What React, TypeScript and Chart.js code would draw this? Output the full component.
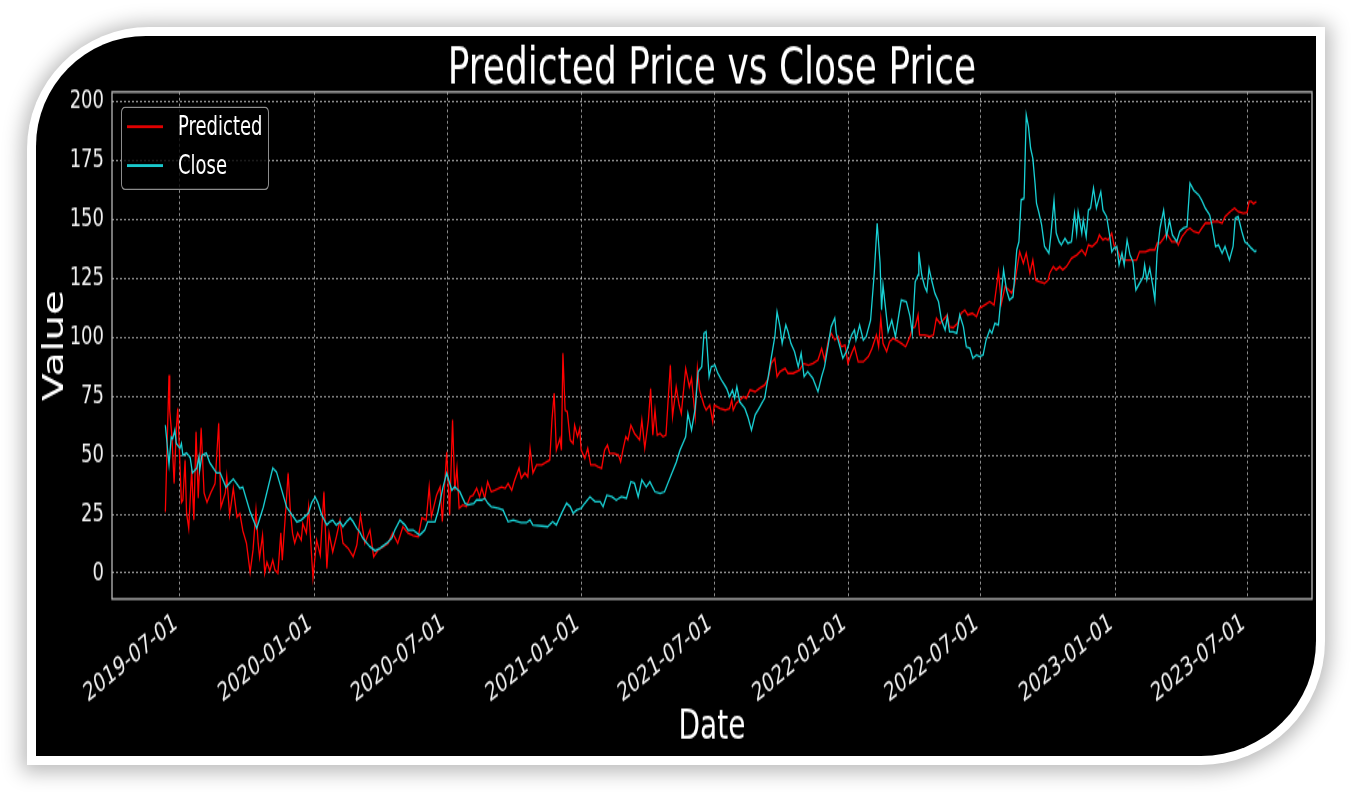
import React, { useEffect, useRef } from "react";
import { Chart, registerables } from "chart.js";

Chart.register(...registerables);

// ---------- data (x = days since START_DATE) ----------
const START_DATE = "2019-07-01";

const xTickLabels = [
  "2019-07-01", "2020-01-01", "2020-07-01", "2021-01-01", "2021-07-01",
  "2022-01-01", "2022-07-01", "2023-01-01", "2023-07-01",
];
const yTickValues = [0, 25, 50, 75, 100, 125, 150, 175, 200];
const xRangeDays = [-93, 1549];
const yRange = [-11, 204.2];

const predictedDays = [
  -20, -15, -14, -11, -8, -5, -3, 2, 4, 7, 9, 12, 16, 19, 22, 25, 29, 33, 37, 42,
  48, 53, 56, 62, 64, 68, 73, 78, 82, 86, 91, 96, 100, 104, 107, 109, 113, 116, 119, 123,
  127, 130, 134, 138, 140, 145, 148, 151, 154, 157, 161, 166, 168, 173, 176, 178, 182, 187, 192, 197,
  201, 204, 209, 214, 219, 223, 230, 237, 242, 247, 253, 260, 265, 271, 278, 285, 291, 298, 305, 312,
  319, 326, 331, 337, 341, 344, 351, 356, 359, 365, 369, 373, 376, 379, 382, 387, 392, 397, 401, 406,
  410, 413, 417, 421, 426, 431, 440, 445, 449, 454, 458, 464, 467, 472, 476, 479, 483, 488, 495, 502,
  506, 509, 512, 515, 520, 522, 524, 527, 530, 534, 538, 540, 544, 547, 549, 554, 558, 562, 568, 572,
  577, 581, 585, 588, 594, 600, 603, 606, 610, 613, 617, 622, 629, 632, 636, 641, 644, 647, 650, 653,
  657, 661, 665, 671, 674, 679, 683, 686, 692, 697, 700, 705, 708, 711, 717, 720, 725, 729, 731, 735,
  739, 746, 752, 755, 757, 761, 766, 771, 775, 780, 787, 793, 800, 805, 809, 814, 817, 821, 828, 832,
  839, 848, 853, 860, 866, 873, 878, 882, 887, 891, 896, 901, 905, 910, 914, 919, 923, 928, 935, 942,
  947, 953, 956, 959, 962, 967, 971, 976, 980, 987, 993, 999, 1002, 1006, 1010, 1012, 1019, 1026, 1031, 1035,
  1040, 1044, 1050, 1053, 1058, 1064, 1069, 1074, 1078, 1084, 1090, 1094, 1101, 1108, 1114, 1120, 1124, 1129, 1134, 1138,
  1142, 1145, 1149, 1154, 1158, 1163, 1167, 1171, 1176, 1183, 1188, 1190, 1195, 1199, 1204, 1208, 1213, 1220, 1227, 1234,
  1239, 1243, 1248, 1255, 1258, 1263, 1266, 1270, 1275, 1278, 1282, 1287, 1293, 1302, 1309, 1313, 1321, 1327, 1334, 1337,
  1341, 1346, 1350, 1357, 1364, 1366, 1371, 1378, 1382, 1387, 1394, 1398, 1403, 1409, 1414, 1421, 1426, 1430, 1437, 1443,
  1448, 1455, 1460, 1463, 1466, 1469, 1473,
];
const predictedValues = [
  26, 84, 69, 58, 38, 61, 70, 30, 31, 48, 25.5, 19, 44, 22.5, 60, 32, 61.6, 34, 30, 34,
  38, 63.7, 28, 34, 41, 24.6, 36, 23.8, 25.3, 18, 12.7, 0.4, 9.8, 26.7, 12.7, 6.8, 16, 0, 4.7, 1,
  5.5, 1.3, 0, 17, 5.5, 28, 42.5, 26.7, 17, 12.7, 17, 14, 21, 17, 28, 18, -2, 14, 7.6, 34.5,
  2, 17, 9, 15.4, 22.5, 12.7, 10.6, 7, 11.9, 24.6, 12.7, 18.3, 7, 9.8, 11.2, 12.7, 17, 12.7, 19.7, 17,
  16, 15.4, 23.4, 22.5, 36.6, 23.9, 33, 36.6, 21.8, 51.5, 24.6, 65, 35.2, 44.6, 27.6, 28.9, 28.2, 32.4, 33, 36,
  32.4, 36, 31.8, 38.8, 34.5, 35.2, 36.6, 36, 38, 35.2, 39.5, 44.6, 40.3, 42.5, 40.9, 53, 42.5, 45.9, 45.9, 47.3,
  48, 65, 76.3, 52.2, 57.2, 52.2, 93.3, 69.2, 68.5, 56.5, 55, 62.8, 57.9, 61.4, 52.2, 48.7, 53, 45.9, 45.9, 45.1,
  44.5, 52.2, 54.4, 50.8, 50.8, 50.1, 47.3, 52.2, 57.9, 56.5, 62.8, 59.3, 56.5, 65, 53, 65, 78.4, 58.6, 69.2, 58.6,
  59.3, 57.9, 58.6, 88.3, 66.4, 79.1, 71.3, 67.8, 86.9, 79.1, 82.7, 66.4, 86.9, 77.7, 71.3, 69.2, 71.3, 64.2, 71.3, 70.6,
  69.9, 69.2, 69.9, 73.5, 69.2, 72, 73.5, 74.9, 74.2, 77.7, 77, 78.4, 79.8, 82.7, 89, 91.2, 83.4, 85.5, 86.9, 84.8,
  84.8, 86.2, 89, 88.3, 89, 90.4, 95.4, 90.4, 98.4, 101.8, 99, 100.4, 96.1, 96.8, 89, 93.3, 96.1, 89.7, 89.7, 91.9,
  95.4, 101.1, 96.1, 108.2, 97.5, 94, 98.2, 99.6, 98.9, 97.5, 96.1, 100.4, 103.9, 104.6, 109.6, 101.1, 101.1, 100.4, 101.1, 108.2,
  106, 107.4, 109.6, 104.6, 104.2, 106, 110.3, 111.7, 109.6, 110.3, 108.9, 112.4, 113.8, 115.2, 113.8, 127.9, 114.5, 121.6, 120.2, 118.8,
  122.3, 128.7, 136.4, 131.5, 135.8, 127.3, 132.9, 124.4, 123.7, 123, 124.4, 127.3, 130.1, 128.7, 130.1, 128.7, 130.1, 133.6, 135, 137.2,
  135, 139.3, 138.6, 140.7, 143.5, 141.4, 142.1, 141.4, 144.3, 139.3, 137.9, 133.6, 132.9, 132.9, 132.9, 136.4, 136.4, 137.2, 137.2, 140,
  140, 142.1, 144.3, 140.7, 140.7, 139.3, 142.8, 145.6, 146.4, 145, 144.3, 146.4, 148.5, 148.5, 149.2, 149.2, 148.5, 151.3, 153.4, 154.9,
  153.4, 152.7, 153, 157.7, 157.7, 156.8, 157.7,
];

const closeDays = [
  -20, -15, -12, -10, -7, -5, 0, 2, 4, 9, 14, 17, 23, 26, 27, 30, 36, 41, 50, 55,
  63, 73, 82, 86, 96, 105, 114, 127, 132, 146, 160, 166, 176, 180, 185, 189, 194, 201, 205, 209,
  214, 219, 223, 228, 233, 237, 242, 246, 250, 260, 267, 274, 283, 290, 294, 301, 308, 312, 319, 328,
  335, 339, 349, 353, 360, 365, 372, 376, 383, 390, 394, 402, 406, 413, 417, 421, 426, 435, 442, 449,
  456, 463, 467, 474, 479, 483, 495, 503, 510, 515, 522, 529, 534, 538, 543, 549, 554, 561, 568, 575,
  579, 584, 591, 597, 604, 611, 617, 622, 627, 632, 638, 643, 650, 657, 663, 670, 679, 684, 692, 695,
  700, 705, 709, 714, 717, 720, 724, 727, 732, 736, 741, 748, 752, 756, 759, 762, 766, 773, 777, 782,
  787, 791, 796, 800, 805, 809, 814, 817, 821, 824, 829, 832, 836, 841, 846, 850, 854, 859, 866, 873,
  878, 882, 887, 891, 896, 898, 903, 907, 912, 919, 923, 925, 930, 935, 939, 945, 950, 954, 958, 960,
  962, 965, 969, 974, 979, 984, 987, 994, 999, 1002, 1006, 1010, 1011, 1015, 1019, 1022, 1025, 1029, 1033, 1038,
  1042, 1047, 1050, 1053, 1058, 1063, 1067, 1072, 1076, 1081, 1085, 1090, 1094, 1099, 1103, 1108, 1111, 1115, 1120, 1124,
  1127, 1131, 1135, 1140, 1145, 1148, 1151, 1155, 1158, 1161, 1164, 1167, 1170, 1172, 1175, 1179, 1183, 1189, 1192, 1196,
  1199, 1203, 1206, 1211, 1215, 1220, 1224, 1227, 1229, 1234, 1236, 1240, 1243, 1246, 1250, 1254, 1260, 1263, 1268, 1272,
  1275, 1278, 1282, 1285, 1289, 1292, 1296, 1300, 1304, 1308, 1313, 1318, 1320, 1323, 1327, 1331, 1334, 1337, 1341, 1346,
  1350, 1354, 1358, 1364, 1368, 1373, 1378, 1382, 1387, 1394, 1398, 1403, 1409, 1412, 1417, 1421, 1426, 1430, 1436, 1441,
  1444, 1448, 1453, 1457, 1462, 1466, 1471, 1473,
];
const closeValues = [
  62.8, 46, 57.7, 57, 60.7, 55, 53, 55, 50, 51, 49, 42.5, 44.6, 49.4, 43.7, 50, 51, 46.7, 42.5, 42.5,
  36.5, 40, 36, 36.5, 26, 19, 28, 44.6, 43, 28, 21.7, 22.5, 25.5, 29.7, 32.4, 29.7, 24.6, 20.4, 21.8, 22.5,
  20.4, 21.8, 19.7, 21.8, 23.4, 21.8, 19, 17.5, 14.9, 11.2, 9.5, 10.6, 12.7, 14.9, 18.3, 22.5, 20.4, 18.3, 18.3, 16.1,
  18.3, 21.8, 21.8, 26, 36.6, 42.5, 35.2, 36.6, 34.5, 29.7, 28.9, 29.6, 31, 31, 31.8, 29.7, 28.2, 27.6, 26.8, 21.8,
  22.5, 21.8, 21.4, 21.4, 22.5, 20.4, 20, 19.7, 21.8, 20.4, 25.3, 29.7, 28.2, 25.5, 26.8, 27.6, 29.7, 32.4, 30.3, 30.3,
  28.2, 33, 32.4, 31, 32.4, 31.8, 38.8, 38.1, 32.4, 39.5, 36.6, 38.8, 34.5, 33.8, 34.5, 40, 47, 52, 57.9, 67.8,
  60.7, 69.9, 85.5, 87.6, 101.8, 102.5, 83.4, 87.6, 88.3, 84.8, 82, 78.4, 74.9, 77.7, 74.2, 79.1, 72.7, 69.9, 66.4, 60.7,
  67.1, 69.2, 72, 74.2, 83.4, 91.2, 100.4, 110.9, 104.6, 97.5, 105.3, 102.5, 97.5, 94, 87.6, 93.3, 83.4, 85.5, 82.7, 77,
  83.4, 87.6, 96.8, 104.6, 108.2, 101.8, 96.1, 91.2, 94, 101.1, 103.2, 98.9, 105.3, 98.9, 100.4, 107.4, 127.3, 148.5, 131.5, 111.7,
  122.3, 113.8, 102.5, 107.4, 100.4, 110.3, 115.9, 115.2, 108.9, 101.8, 123.7, 126.5, 136.4, 126.5, 121.6, 119.5, 129.4, 123.7, 118.8, 115.2,
  107.4, 103.2, 108.9, 102.5, 102.5, 101.8, 109.6, 104.6, 96.1, 95.4, 91.2, 92.6, 91.9, 92.6, 98.9, 103.2, 101.8, 106, 105.3, 118.8,
  128.7, 120.2, 115.9, 117.3, 137.2, 140.7, 158.4, 159.1, 194.5, 189.5, 180.3, 176.1, 165.5, 157, 153.4, 147.8, 138.6, 135.8, 144.3, 158.3,
  144.3, 140.7, 139.3, 142.1, 140, 140.7, 152.7, 144.3, 153.4, 144.3, 149.9, 142.8, 154.1, 154.9, 163.4, 154.9, 161.9, 154.1, 151.3, 143.5,
  136.4, 137.9, 138.6, 130.8, 135.8, 130.8, 141.4, 135, 132.2, 120.2, 123, 125.8, 130.8, 124.4, 129.4, 122.3, 115.9, 135.8, 146.4, 154.1,
  142.8, 149.9, 143.5, 140.7, 145, 146.4, 147.1, 165.5, 162.6, 160.5, 158.4, 154.9, 152, 147.8, 138.6, 139.3, 135.8, 138.6, 132.9, 138.6,
  150.6, 151.3, 145, 140.7, 139.3, 137.9, 136.4, 137.1,
];

// ---------- helpers / layout ----------
const DAY_MS = 86400000;
const dayOf = (s: string) =>
  Math.round((Date.parse(s + "T00:00:00Z") - Date.parse(START_DATE + "T00:00:00Z")) / DAY_MS);

const FONT = '"DejaVu Sans", "Liberation Sans", sans-serif';
const STRETCH = 1.44; // the reference image is vertically stretched
const CW = 1352;
const CH = 550; // 792 / 1.44
const AREA_TOP = 92 / STRETCH;
const AREA_BOTTOM = 599 / STRETCH;
const TITLE_PAD_TOP = 30.5;

const framePlugin = {
  id: "axesFrame",
  beforeDatasetsDraw(chart: any) {
    const { ctx, chartArea: a } = chart;
    ctx.save();
    ctx.strokeStyle = "#b8b8b8";
    ctx.lineWidth = 1.3;
    ctx.strokeRect(a.left, a.top, a.right - a.left, a.bottom - a.top);
    ctx.restore();
  },
};

const gridColor = "rgba(205,205,205,0.8)";
const tickColor = "#f2f2f2";

export default function App() {
  const ref = useRef<HTMLCanvasElement>(null);

  useEffect(() => {
    const canvas = ref.current;
    if (!canvas) return;
    const chart = new Chart(canvas, {
      type: "line",
      data: {
        datasets: [
          {
            label: "Predicted",
            data: predictedDays.map((d, i) => ({ x: d, y: predictedValues[i] })),
            borderColor: "#ff0000",
            backgroundColor: "#ff0000",
            borderWidth: 1.3,
            pointRadius: 0,
            tension: 0,
            order: 2,
          },
          {
            label: "Close",
            data: closeDays.map((d, i) => ({ x: d, y: closeValues[i] })),
            borderColor: "#19d2d6",
            backgroundColor: "#19d2d6",
            borderWidth: 1.3,
            pointRadius: 0,
            tension: 0,
            order: 1,
          },
        ],
      },
      options: {
        animation: false,
        responsive: false,
        devicePixelRatio: 1,
        events: [],
        layout: { padding: { left: 0, right: CW - 1312, top: 0, bottom: 0 } },
        plugins: {
          legend: { display: false },
          tooltip: { enabled: false },
          title: {
            display: true,
            fullSize: false,
            text: "Predicted Price vs Close Price",
            color: "#ffffff",
            font: { family: FONT, size: 36, weight: "normal", lineHeight: 1 },
            padding: { top: TITLE_PAD_TOP, bottom: AREA_TOP - TITLE_PAD_TOP - 36 },
          },
        },
        scales: {
          x: {
            type: "linear",
            min: xRangeDays[0],
            max: xRangeDays[1],
            afterBuildTicks: (s: any) => {
              s.ticks = xTickLabels.map((l) => ({ value: dayOf(l) }));
            },
            afterFit: (s: any) => {
              s.height = CH - AREA_BOTTOM;
            },
            ticks: {
              autoSkip: false,
              minRotation: 30,
              maxRotation: 30,
              padding: 6,
              labelOffset: -4,
              color: tickColor,
              font: { family: FONT, size: 18 },
              callback: (_v: any, i: number) => xTickLabels[i],
            },
            grid: { color: gridColor, lineWidth: 0.9, drawTicks: false },
            border: { display: false, dash: [2, 2] },
            title: {
              display: true,
              text: "Date",
              color: "#ffffff",
              font: { family: FONT, size: 28 },
              padding: { top: 0, bottom: 27.5 },
            },
          },
          y: {
            type: "linear",
            min: yRange[0],
            max: yRange[1],
            afterBuildTicks: (s: any) => {
              s.ticks = yTickValues.map((v) => ({ value: v }));
            },
            afterFit: (s: any) => {
              s.width = 112;
            },
            ticks: {
              padding: 8,
              color: tickColor,
              font: { family: FONT, size: 18 },
              callback: (v: any) => String(v),
            },
            grid: { color: gridColor, lineWidth: 0.9, drawTicks: false },
            border: { display: false, dash: [2, 2] },
            title: {
              display: true,
              text: "Value",
              color: "#ffffff",
              font: { family: FONT, size: 28 },
              padding: { top: 38.5, bottom: 0 },
            },
          },
        },
      },
      plugins: [framePlugin],
    } as any);
    return () => chart.destroy();
  }, []);

  const legendRows = [
    { label: "Predicted", color: "#e00000", y: 88 - 74.1 },
    { label: "Close", color: "#19c8cc", y: 115 - 74.1 },
  ];

  return (
    <div
      style={{
        position: "fixed",
        left: 0,
        top: 0,
        width: CW,
        height: 792,
        overflow: "hidden",
        background: "#ffffff",
      }}
    >
      <div
        style={{
          position: "absolute",
          left: 27,
          top: 27,
          width: 1298,
          height: 738,
          background: "#ffffff",
          borderRadius: "122px 0 124px 0",
          boxShadow: "0 2px 20px 5px rgba(0,0,0,0.28)",
        }}
      />
      <div
        style={{
          position: "absolute",
          left: 36,
          top: 36,
          width: 1280,
          height: 720,
          background: "#000000",
          borderRadius: "110px 0 115px 0",
        }}
      />
      <div
        style={{
          position: "absolute",
          left: 0,
          top: 0,
          width: CW,
          height: CH,
          transform: `scaleY(${STRETCH})`,
          transformOrigin: "0 0",
        }}
      >
        <canvas
          ref={ref}
          width={CW}
          height={CH}
          style={{ display: "block", width: CW, height: CH }}
        />
        <div
          style={{
            position: "absolute",
            left: 120.7,
            top: 74.1,
            width: 148,
            height: 58.3,
            boxSizing: "border-box",
            border: "1px solid #8c8c8c",
            borderRadius: 4,
            background: "rgba(0,0,0,0.8)",
            fontFamily: FONT,
          }}
        >
          {legendRows.map((r) => (
            <React.Fragment key={r.label}>
              <div
                style={{
                  position: "absolute",
                  left: 5.3,
                  top: r.y - 1.7,
                  width: 36,
                  height: 1.4,
                  background: r.color,
                }}
              />
              <div
                style={{
                  position: "absolute",
                  left: 56.3,
                  top: r.y - 11.6,
                  fontSize: 18,
                  lineHeight: "22px",
                  color: "#ffffff",
                  whiteSpace: "nowrap",
                }}
              >
                {r.label}
              </div>
            </React.Fragment>
          ))}
        </div>
      </div>
    </div>
  );
}
